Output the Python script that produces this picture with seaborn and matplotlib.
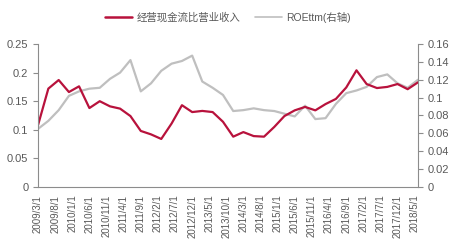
import matplotlib
matplotlib.use("Agg")
import matplotlib.pyplot as plt
from matplotlib.lines import Line2D
import pandas as pd
import seaborn as sns

# quarterly series, 2009Q1 .. 2018Q2
quarters = pd.date_range("2009-03-01", periods=38, freq="3MS")
cash_ratio = [0.108, 0.172, 0.187, 0.166, 0.176, 0.138, 0.150, 0.141, 0.137, 0.124,
              0.098, 0.092, 0.084, 0.111, 0.143, 0.131, 0.133, 0.131, 0.114, 0.088,
              0.096, 0.089, 0.088, 0.105, 0.124, 0.134, 0.140, 0.134, 0.145, 0.154,
              0.174, 0.204, 0.180, 0.173, 0.175, 0.180, 0.171, 0.183]
roe_ttm = [0.065, 0.074, 0.086, 0.102, 0.107, 0.110, 0.111, 0.121, 0.128, 0.142,
           0.107, 0.116, 0.130, 0.138, 0.141, 0.147, 0.118, 0.111, 0.103, 0.085,
           0.086, 0.088, 0.086, 0.085, 0.082, 0.079, 0.091, 0.076, 0.077, 0.093,
           0.105, 0.108, 0.112, 0.123, 0.126, 0.116, 0.111, 0.120]
tick_labels = ["2009/3/1", "2009/8/1", "2010/1/1", "2010/6/1", "2010/11/1", "2011/4/1",
               "2011/9/1", "2012/2/1", "2012/7/1", "2012/12/1", "2013/5/1", "2013/10/1",
               "2014/3/1", "2014/8/1", "2015/1/1", "2015/6/1", "2015/11/1", "2016/4/1",
               "2016/9/1", "2017/2/1", "2017/7/1", "2017/12/1", "2018/5/1"]
left_ticks = [0, 0.05, 0.1, 0.15, 0.2, 0.25]
right_ticks = [0, 0.02, 0.04, 0.06, 0.08, 0.1, 0.12, 0.14, 0.16]
name_cash = "经营现金流比营业收入"
name_roe = "ROEttm(右轴)"

sns.set_style("white")
plt.rcParams["font.family"] = ["Liberation Sans", "Noto Sans CJK SC", "DejaVu Sans"]

red = "#B8123C"
grey = "#BFBFBF"
axis_col = "#8C8C8C"
text_col = "#595959"

df = pd.DataFrame({"date": quarters, "cash": cash_ratio, "roe": roe_ttm})

fig = plt.figure(figsize=(4.56, 2.5), dpi=100)
ax = fig.add_axes([38 / 456, 1 - 187 / 250, 380 / 456, 143 / 250])
ax2 = ax.twinx()

sns.lineplot(data=df, x="date", y="roe", ax=ax2, color=grey, linewidth=1.6)
sns.lineplot(data=df, x="date", y="cash", ax=ax, color=red, linewidth=1.6)
ax.set_zorder(ax2.get_zorder() + 1)
ax.patch.set_visible(False)

ax.set_xlim(quarters[0], quarters[-1])
ax.set_ylim(0, 0.25)
ax2.set_ylim(0, 0.16)
ax.set_yticks(left_ticks)
ax.set_yticklabels([f"{v:g}" for v in left_ticks])
ax2.set_yticks(right_ticks)
ax2.set_yticklabels([f"{v:g}" for v in right_ticks])

ax.set_xticks(pd.to_datetime(tick_labels, format="%Y/%m/%d"))
ax.set_xticklabels(tick_labels, rotation=90)

for a in (ax, ax2):
    a.set_xlabel("")
    a.set_ylabel("")
    a.spines["top"].set_visible(False)
    for s in ("left", "right", "bottom"):
        a.spines[s].set_color(axis_col)
        a.spines[s].set_linewidth(0.8)
    a.tick_params(colors=axis_col, labelcolor=text_col, labelsize=8,
                  direction="out", length=3.5, width=0.8)
ax.spines["right"].set_visible(False)
ax2.spines["left"].set_visible(False)
ax2.spines["bottom"].set_visible(False)
ax.tick_params(axis="x", labelsize=7, pad=2)

handles = [Line2D([], [], color=red, linewidth=1.8),
           Line2D([], [], color=grey, linewidth=1.2)]
fig.legend(handles, [name_cash, name_roe], loc="center", bbox_to_anchor=(0.5, 1 - 17 / 250),
           ncol=2, frameon=False, fontsize=7.5, handlelength=2.6, handletextpad=0.4,
           columnspacing=1.4, labelcolor=text_col)

fig.savefig("out.png", dpi=100)
